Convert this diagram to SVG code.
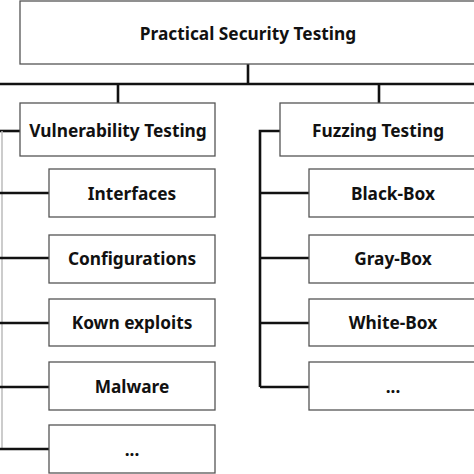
<svg xmlns="http://www.w3.org/2000/svg" width="474" height="474" viewBox="0 0 474 474">
<style>
.box{fill:#fff;stroke:#555;stroke-width:1.3}
.t{font-family:"Noto Sans","Open Sans",sans-serif;font-weight:bold;font-size:17.3px;fill:#111;text-anchor:middle}
.c{stroke:#111;stroke-width:2.6;fill:none}
.cl{stroke:#bbb;stroke-width:1.5;fill:none}
</style>
<rect width="474" height="474" fill="#fff"/>
<g id="connectors">
<path class="c" d="M248 64V84M0 84H474M118 84V103M379 84V103"/>
<path class="c" d="M0 131H20"/>
<path class="cl" d="M2 131V450"/>
<path class="c" d="M0 193H49M0 258H49M0 323H49M0 387H49M0 449H49"/>
<path class="c" d="M280 131H260V387M260 193H309M260 258H309M260 323H309M260 387H309"/>
</g>
<g id="root"><rect class="box" x="20" y="1" width="460" height="63"/><text class="t" x="248" y="40">Practical Security Testing</text></g>
<g id="vuln"><rect class="box" x="20" y="103" width="195" height="53"/><text class="t" x="118" y="137">Vulnerability Testing</text></g>
<g id="fuzz"><rect class="box" x="280" y="103" width="200" height="53"/><text class="t" x="378" y="137">Fuzzing Testing</text></g>
<g id="interfaces"><rect class="box" x="49" y="169" width="166" height="48"/><text class="t" x="132" y="200">Interfaces</text></g>
<g id="configurations"><rect class="box" x="49" y="235" width="166" height="48"/><text class="t" x="132" y="265">Configurations</text></g>
<g id="exploits"><rect class="box" x="49" y="299" width="166" height="47"/><text class="t" x="132" y="329">Kown exploits</text></g>
<g id="malware"><rect class="box" x="49" y="362" width="166" height="48"/><text class="t" x="132" y="393">Malware</text></g>
<g id="vmore"><rect class="box" x="49" y="425" width="166" height="48"/><text class="t" x="132" y="456">...</text></g>
<g id="black"><rect class="box" x="309" y="169" width="171" height="48"/><text class="t" x="393" y="200">Black-Box</text></g>
<g id="gray"><rect class="box" x="309" y="235" width="171" height="48"/><text class="t" x="393" y="265">Gray-Box</text></g>
<g id="white"><rect class="box" x="309" y="299" width="171" height="47"/><text class="t" x="393" y="329">White-Box</text></g>
<g id="fmore"><rect class="box" x="309" y="362" width="171" height="48"/><text class="t" x="393" y="393">...</text></g>
</svg>
